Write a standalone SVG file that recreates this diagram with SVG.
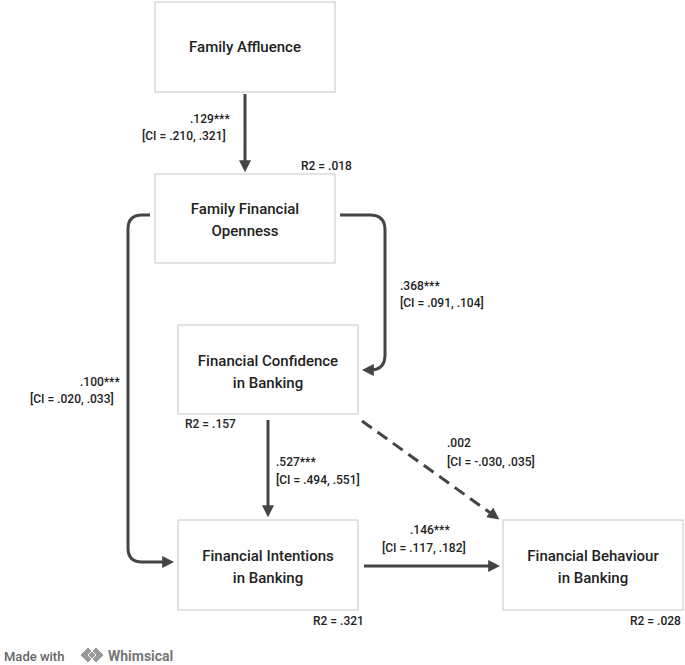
<svg xmlns="http://www.w3.org/2000/svg" width="685" height="665" viewBox="0 0 685 665">
<style>
.box{fill:#fff;stroke:#cfcfcf;stroke-width:1.2}
.t{font-family:Roboto,"Liberation Sans",sans-serif;font-size:15px;font-weight:500;fill:#222;text-anchor:middle}
.l{font-family:Roboto,"Liberation Sans",sans-serif;font-size:12px;font-weight:500;fill:#222}
.c{fill:none;stroke:#444;stroke-width:3}
</style>
<defs><marker id="a" markerWidth="4" markerHeight="4" refX="2.6" refY="2" orient="auto"><path d="M0,0L4,2L0,4z" fill="#444"/></marker></defs>
<rect width="685" height="665" fill="#fff"/>
<g id="n1"><rect class="box" x="155" y="2" width="180" height="90"/><text class="t" x="245" y="52">Family Affluence</text></g>
<g id="n2"><rect class="box" x="155" y="174" width="180" height="89"/><text class="t" x="245" y="214">Family Financial</text><text class="t" x="245" y="236">Openness</text></g>
<g id="n3"><rect class="box" x="178" y="325" width="180" height="89"/><text class="t" x="268" y="366">Financial Confidence</text><text class="t" x="268" y="388">in Banking</text></g>
<g id="n4"><rect class="box" x="178" y="520" width="180" height="90"/><text class="t" x="268" y="561">Financial Intentions</text><text class="t" x="268" y="583">in Banking</text></g>
<g id="n5"><rect class="box" x="503" y="520" width="180" height="90"/><text class="t" x="593" y="561">Financial Behaviour</text><text class="t" x="593" y="583">in Banking</text></g>
<g id="connectors">
<path class="c" d="M245,94V168" marker-end="url(#a)"/>
<path class="c" d="M340,215H370Q385,215 385,230V355Q385,370 370,370H366" marker-end="url(#a)"/>
<path class="c" d="M150,215H142Q128,215 128,229V548Q128,562 142,562H170" marker-end="url(#a)"/>
<path class="c" d="M268,420V513" marker-end="url(#a)"/>
<path class="c" d="M362,421L496,517" stroke-dasharray="12,7" marker-end="url(#a)"/>
<path class="c" d="M364,566H496" marker-end="url(#a)"/>
</g>
<g id="labels">
<text class="l" x="190" y="123">.129***</text><text class="l" x="142" y="140">[CI = .210, .321]</text>
<text class="l" x="301" y="170">R2 = .018</text>
<text class="l" x="400" y="290">.368***</text><text class="l" x="400" y="307">[CI = .091, .104]</text>
<text class="l" x="80" y="386">.100***</text><text class="l" x="30" y="403">[CI = .020, .033]</text>
<text class="l" x="185" y="428">R2 = .157</text>
<text class="l" x="276" y="466">.527***</text><text class="l" x="276" y="484">[CI = .494, .551]</text>
<text class="l" x="447" y="447">.002</text><text class="l" x="447" y="466">[CI = -.030, .035]</text>
<text class="l" x="410" y="534">.146***</text><text class="l" x="382" y="552">[CI = .117, .182]</text>
<text class="l" x="313" y="625">R2 = .321</text>
<text class="l" x="630" y="625">R2 = .028</text>
</g>
<g id="logo">
<text x="4" y="661" font-family="Roboto,'Liberation Sans',sans-serif" font-size="13" font-weight="500" fill="#666">Made with</text>
<path d="M80,655L88,647L96,655L88,663z M88,655L96,647L104,655L96,663z" fill="#999" stroke="#fff" stroke-width="1"/>
<text x="108" y="661" font-family="Roboto,'Liberation Sans',sans-serif" font-size="14" font-weight="700" fill="#777">Whimsical</text>
</g>
</svg>
